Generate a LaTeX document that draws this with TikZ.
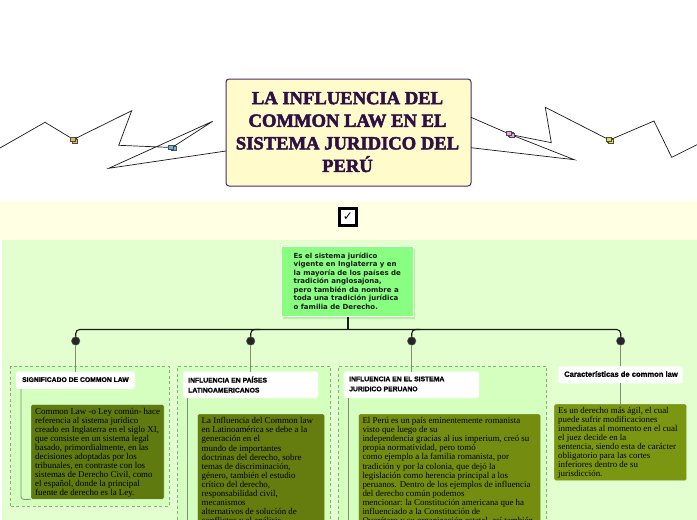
\documentclass[tikz,border=0pt]{standalone}
\usepackage{fontspec}
\setmainfont{Liberation Serif}
\newfontfamily\titlefont[FakeBold=2.6]{Liberation Serif Bold}
\newfontfamily\mainboxfont{DejaVu Sans Bold}
\newfontfamily\labelfont[FakeBold=1]{Liberation Sans Bold}
\newfontfamily\checkfont{DejaVu Sans}
\usetikzlibrary{calc}
\definecolor{titlefill}{HTML}{FFFBCB}
\definecolor{titleline}{HTML}{4B2A68}
\definecolor{titletext}{HTML}{2F0F45}
\definecolor{band}{HTML}{FFFFE3}
\definecolor{field}{HTML}{E4FFCF}
\definecolor{group}{HTML}{D4FFBF}
\definecolor{groupline}{HTML}{84B27A}
\definecolor{mainbox}{HTML}{88FF80}
\definecolor{mainshadow}{HTML}{B4F0A0}
\definecolor{stem}{HTML}{7F8F70}
\definecolor{darka}{HTML}{5F7A0E}
\definecolor{darkb}{HTML}{657C0F}
\definecolor{darkc}{HTML}{748D10}
\definecolor{darkd}{HTML}{7B9712}
\definecolor{icoa}{HTML}{E8B84A}
\definecolor{icob}{HTML}{5FB8E8}
\definecolor{icoc}{HTML}{F2A0E0}
\definecolor{icod}{HTML}{E8E040}
\tikzset{
  x=1pt,y=-1pt,
  sheet/.style={draw=none,inner sep=0pt,outer sep=0pt,anchor=north west},
  grp/.style={sheet,fill=group,draw=groupline,line width=.6pt,dash pattern=on 3pt off 2.5pt},
  lbl/.style={sheet,fill=white,rounded corners=2.5pt},
  lbltext/.style={inner sep=0pt,anchor=north west,align=left,font=\labelfont\fontsize{6.8}{10}\selectfont,text=black},
  dark/.style={sheet,rounded corners=1.5pt,draw=white!60!green!40,line width=.4pt},
  body/.style={inner sep=0pt,anchor=north west,align=left,font=\fontsize{8.9}{9.05}\selectfont,text=black},
  dot/.style={circle,fill=black!85,draw=black!60,inner sep=0pt,minimum size=8.6pt},
  wire/.style={draw=black!90,line width=.7pt},
  stemline/.style={draw=stem,line width=.8pt},
  ico/.style={draw=black!70,line width=.5pt,inner sep=0pt,minimum width=5pt,minimum height=4pt}
}
\begin{document}
\begin{tikzpicture}
\useasboundingbox (0,0) rectangle (697,520);
\clip (0,0) rectangle (697,520);
\fill[white] (0,0) rectangle (697,520);
% bands
\fill[band] (0,201) rectangle (697,240);
\fill[field] (2,240) rectangle (697,520);
% checkbox
\node[draw=black,line width=3pt,fill=white,minimum size=16.5pt,inner sep=0pt,font=\checkfont\fontsize{12}{12}\selectfont] (chk) at (348,217) {✓};
% title
\node[sheet,anchor=center,fill=titlefill,draw=titleline,line width=1pt,rounded corners=3pt,minimum width=245pt,minimum height=107pt] (title) at (348.5,132.5) {};
\node[inner sep=0pt,align=center,text=titletext,font=\titlefont\fontsize{18.6}{22.6}\selectfont] (titletxt) at (347.5,132) {LA INFLUENCIA DEL\\COMMON LAW EN EL\\SISTEMA JURIDICO DEL\\PERÚ};
% connectors anchors
\node[ico,fill=icoa] (ia) at (73.5,139.5) {};
\node[ico,fill=icob] (ib) at (172,147.5) {};
\node[ico,fill=icoc] (ic) at (510.5,134.5) {};
\node[ico,fill=icod] (id) at (609.5,140) {};
\coordinate (la) at (0,148);
\coordinate (lb) at (45,122.3);
\coordinate (lc) at (131.7,110.7);
\coordinate (ld) at (118.7,145.3);
\coordinate (le) at (212.7,121.3);
\coordinate (lf) at (108.7,168.3);
\coordinate (ra) at (551.3,142.7);
\coordinate (rb) at (545.3,107.3);
\coordinate (rc) at (654,121);
\coordinate (rd) at (671.7,157.3);
\coordinate (re) at (697,144.7);
\coordinate (rf) at (574.3,159.7);
\draw[wire] (la) -- (lb) -- (ia.center) -- (lc) -- (ld) -- (ib.center) -- (le) -- (lf) -- (title.west |- 0,151);
\draw[wire] (title.east |- 0,117.3) -- (ic.center) -- (ra) -- (rb) -- (id.center) -- (rc) -- (rd) -- (re);
\draw[wire] (title.east |- 0,147.7) -- (rf) -- (ic.center);
\node[ico,fill=icoa] at (75,141) {};
\node[ico,fill=icoa] at (73,139) {};
\node[ico,fill=icob] at (173.5,148.5) {};
\node[ico,fill=icob] at (171,146.8) {};
\node[ico,fill=icoc] at (511.5,135.7) {};
\node[ico,fill=icoc] at (509,133.5) {};
\node[ico,fill=icod] at (611,141.5) {};
\node[ico,fill=icod] at (608.7,139.3) {};
% groups
\node[grp,minimum width=158.6pt,minimum height=139.7pt] (ga) at (10.7,366.3) {};
\node[grp,minimum width=153.4pt,minimum height=170pt] (gb) at (177.3,366.3) {};
\node[grp,minimum width=208.4pt,minimum height=170pt] (gc) at (338.3,366.3) {};
% central box
\fill[mainshadow] (283,249) rectangle (415,319);
\node[sheet,fill=mainbox,draw=white,line width=.8pt,minimum width=132pt,minimum height=70.5pt] (main) at (281,246.3) {};
\node[inner sep=0pt,anchor=north west,align=left,font=\mainboxfont\fontsize{7}{8.55}\selectfont,text=black!90] (maintxt) at (293.5,252.2) {Es el sistema jurídico\\vigente en Inglaterra y en\\la mayoría de los países de\\tradición anglosajona,\\pero también da nombre a\\toda una tradición jurídica\\o familia de Derecho.};
% dots
\node[dot] (da) at (75.7,341) {};
\node[dot] (db) at (250.7,341) {};
\node[dot] (dc) at (411.7,341) {};
\node[dot] (dd) at (620.7,341) {};
% labels
\node[lbl,minimum width=119pt,minimum height=17.5pt] (la1) at (16,371.5) {};
\node[lbl,minimum width=135pt,minimum height=26.5pt] (la2) at (183,371.5) {};
\node[lbl,minimum width=135.3pt,minimum height=26.5pt] (la3) at (343.7,371.5) {};
\node[lbl,minimum width=124.4pt,minimum height=17pt] (la4) at (558.3,366.3) {};
% dark boxes
\node[dark,fill=darka,minimum width=133pt,minimum height=95pt] (ba) at (31,404.3) {};
\node[dark,fill=darkb,minimum width=127.4pt,minimum height=130pt] (bb) at (197.3,414) {};
\node[dark,fill=darkc,minimum width=182.4pt,minimum height=130pt] (bc) at (358.3,414) {};
\node[dark,fill=darkd,minimum width=132.7pt,minimum height=76.7pt] (bd) at (554,404) {};
% connectors
\draw[line width=1.1pt,black!90] (main.south -| 348,0) -- (348,329.5);
\draw[line width=1.1pt,black!90,rounded corners=4pt] (da.north) -- (75.7,329.5) -- (620.7,329.5) -- (dd.north);
\draw[line width=1.1pt,black!90,rounded corners=4pt] (db.north) -- (250.7,329.5) -- (260,329.5);
\draw[line width=1.1pt,black!90,rounded corners=4pt] (dc.north) -- (411.7,329.5) -- (420,329.5);
\draw[stemline] (da) -- (la1.north -| da);
\draw[stemline] (db) -- (la2.north -| db);
\draw[stemline] (dc) -- (la3.north -| dc);
\draw[stemline] (dd) -- (la4.north -| dd);
\draw[stemline] (la4.south -| dd) -- (bd.north -| dd);
\draw[stemline,rounded corners=3pt] (la1.south west -| 21,0) -- (21,499.5) -- (ba.south west);
\draw[stemline] (la2.south west -| 187.7,0) -- (187.7,520);
\draw[stemline] (la3.south west -| 348.7,0) -- (348.7,520);
% label texts
\node[lbltext] (t1) at (22,377) {SIGNIFICADO DE COMMON LAW};
\node[lbltext] (t2) at (188,376.3) {INFLUENCIA EN PAÍSES\\LATINOAMERICANOS};
\node[lbltext] (t3) at (349,376.3) {INFLUENCIA EN EL SISTEMA\\JURIDICO PERUANO};
\node[lbltext,font=\labelfont\fontsize{7.6}{10}\selectfont] (t4) at (564,371) {Características de common law};
% body texts
\node[body] (ta) at (35,407.8) {Common Law -o Ley común- hace\\referencia al sistema jurídico\\creado en Inglaterra en el siglo XI,\\que consiste en un sistema legal\\basado, primordialmente, en las\\decisiones adoptadas por los\\tribunales, en contraste con los\\sistemas de Derecho Civil, como\\el español, donde la principal\\fuente de derecho es la Ley.};
\node[body] (tb) at (201.5,417.4) {La Influencia del Common law\\en Latinoamérica se debe a la\\generación en el\\mundo de importantes\\doctrinas del derecho, sobre\\temas de discriminación,\\género, también el estudio\\crítico del derecho,\\responsabilidad civil,\\mecanismos\\alternativos de solución de\\conflictos y el análisis};
\node[body] (tc) at (362.3,417.4) {El Perú es un país eminentemente romanista\\visto que luego de su\\independencia gracias al ius imperium, creó su\\propia normatividad, pero tomó\\como ejemplo a la familia romanista, por\\tradición y por la colonia, que dejó la\\legislación como herencia principal a los\\peruanos. Dentro de los ejemplos de influencia\\del derecho común podemos\\mencionar: la Constitución americana que ha\\influenciado a la Constitución de\\Querétaro y su organización estatal, así también};
\node[body] (td) at (558,407) {Es un derecho más ágil, el cual\\puede sufrir modificaciones\\inmediatas al momento en el cual\\el juez decide en la\\sentencia, siendo esta de carácter\\obligatorio para las cortes\\inferiores dentro de su\\jurisdicción.};
\end{tikzpicture}
\end{document}
